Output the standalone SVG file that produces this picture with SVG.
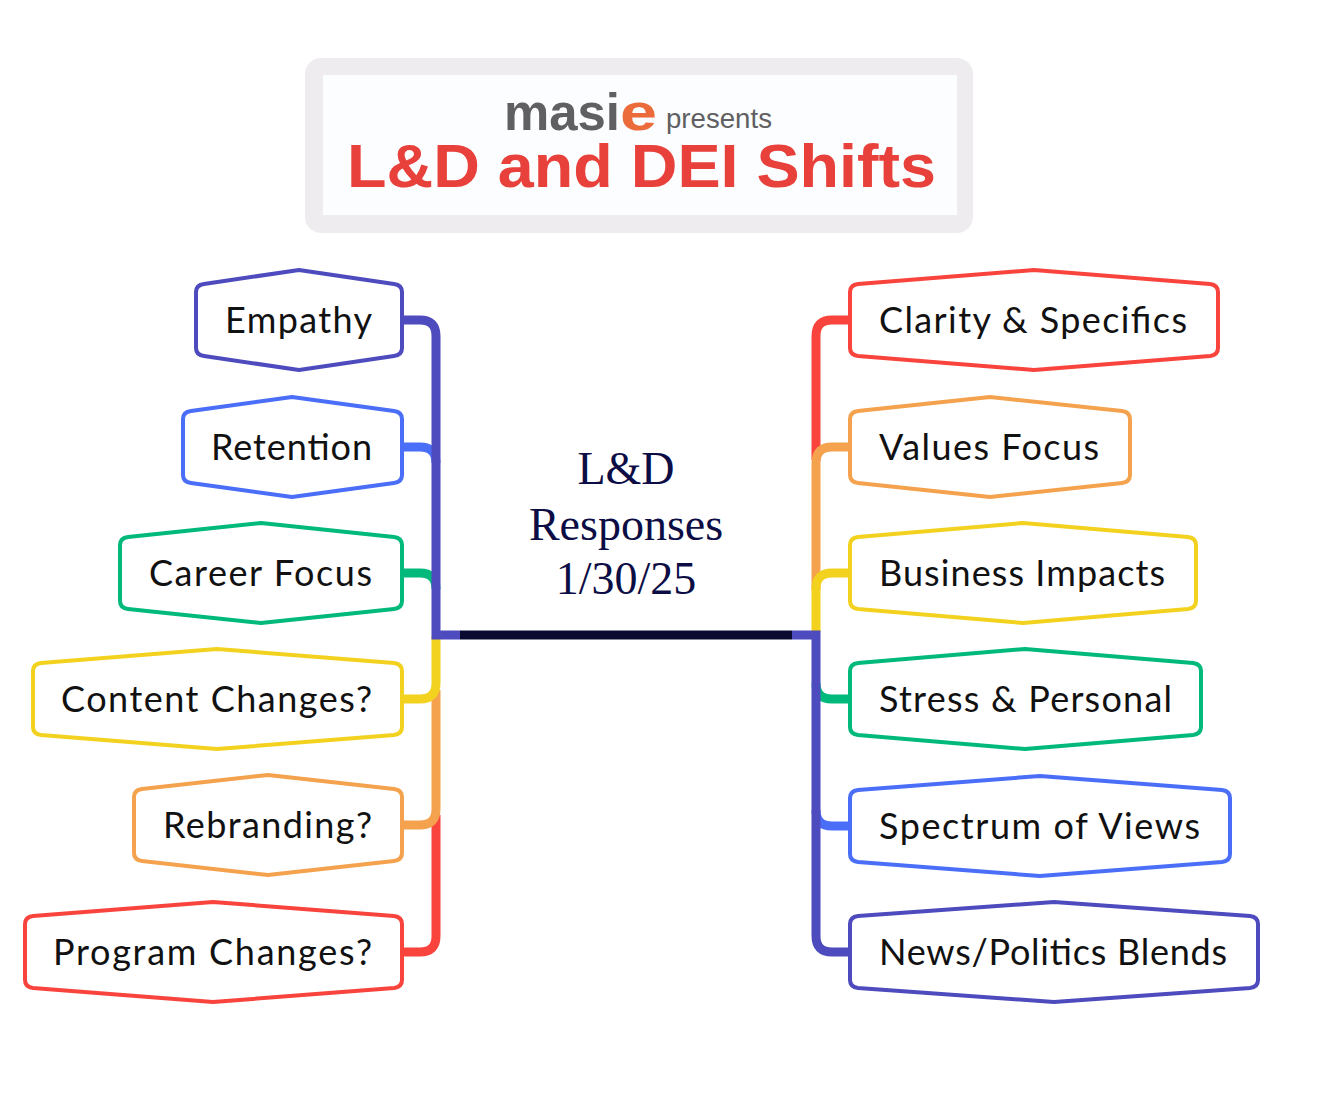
<svg xmlns="http://www.w3.org/2000/svg" width="1324" height="1104" viewBox="0 0 1324 1104">
<style>
.n{fill:#fff;stroke-width:4;stroke-linejoin:round}
.t{font-family:Lato,"Open Sans",sans-serif;font-size:36px;fill:#111}
.l{text-anchor:end}
.c{fill:none;stroke-width:9}
</style>
<rect width="1324" height="1104" fill="#fff"/>
<g id="title">
<rect x="305" y="58" width="668" height="175" rx="16" fill="#eeecef"/>
<rect x="323" y="75" width="634" height="140" fill="#fcfdfe"/>
<text x="504" y="130" font-family="Liberation Sans,sans-serif" font-weight="bold" font-size="52" fill="#606062" textLength="116" lengthAdjust="spacingAndGlyphs">masi</text>
<text x="620" y="130" font-family="Liberation Sans,sans-serif" font-weight="bold" font-size="52" fill="#ec6b3b" textLength="37" lengthAdjust="spacingAndGlyphs">e</text>
<text x="666" y="128" font-family="Liberation Sans,sans-serif" font-size="28" fill="#606062" textLength="106" lengthAdjust="spacingAndGlyphs">presents</text>
<text x="347" y="187" font-family="Liberation Sans,sans-serif" font-weight="bold" font-size="62" fill="#e8403a" textLength="589" lengthAdjust="spacingAndGlyphs">L&amp;D and DEI Shifts</text>
</g>
<g id="connectors">
<path class="c" stroke="#4a6ef8" d="M402,447 H420 Q436,447 436,463"/>
<path class="c" stroke="#00b97a" d="M402,573 H420 Q436,573 436,589"/>
<path class="c" stroke="#f9433d" d="M436,815 V936 Q436,952 420,952 H402"/>
<path class="c" stroke="#f5a24e" d="M436,690 V809 Q436,825 420,825 H402"/>
<path class="c" stroke="#f2d21f" d="M436,636 V683 Q436,699 420,699 H402"/>
<path class="c" stroke="#4d4bbd" d="M402,320 H420 Q436,320 436,336 V635 H460"/>
<path class="c" stroke="#0a0a30" d="M460,635 H792"/>
<path class="c" stroke="#f9433d" d="M850,320 H832 Q816,320 816,336 V460"/>
<path class="c" stroke="#f5a24e" d="M850,447 H832 Q816,447 816,463 V590"/>
<path class="c" stroke="#f2d21f" d="M850,573 H832 Q816,573 816,589 V632"/>
<path class="c" stroke="#00b97a" d="M816,683 Q816,699 832,699 H850"/>
<path class="c" stroke="#4a6ef8" d="M816,810 Q816,826 832,826 H850"/>
<path class="c" stroke="#4d4bbd" d="M792,635 H816 V936 Q816,952 832,952 H850"/>
</g>
<g id="center"><text font-family="Liberation Serif,serif" font-size="46" fill="#0d0d45" text-anchor="middle"><tspan x="626" y="484">L&amp;D</tspan><tspan x="626" y="540">Responses</tspan><tspan x="626" y="594">1/30/25</tspan></text></g>
<g id="n-empathy"><path class="n" stroke="#4d4bbd" d="M204,284 L299,270 L394,284 Q402,285 402,292 V348 Q402,355 394,356 L299,370 L204,356 Q196,355 196,348 V292 Q196,285 204,284 Z"/><text class="t l" x="372" y="333" textLength="147">Empathy</text></g>
<g id="n-retention"><path class="n" stroke="#4a6ef8" d="M191,411 L292,397 L394,411 Q402,412 402,419 V475 Q402,482 394,483 L292,497 L191,483 Q183,482 183,475 V419 Q183,412 191,411 Z"/><text class="t l" x="372" y="460" textLength="161">Retention</text></g>
<g id="n-career"><path class="n" stroke="#00b97a" d="M128,537 L261,523 L394,537 Q402,538 402,545 V601 Q402,608 394,609 L261,623 L128,609 Q120,608 120,601 V545 Q120,538 128,537 Z"/><text class="t l" x="372" y="586" textLength="223">Career Focus</text></g>
<g id="n-content"><path class="n" stroke="#f2d21f" d="M41,663 L217,649 L394,663 Q402,664 402,671 V727 Q402,734 394,735 L217,749 L41,735 Q33,734 33,727 V671 Q33,664 41,663 Z"/><text class="t l" x="372" y="712" textLength="311">Content Changes?</text></g>
<g id="n-rebranding"><path class="n" stroke="#f5a24e" d="M142,789 L268,775 L394,789 Q402,790 402,797 V853 Q402,860 394,861 L268,875 L142,861 Q134,860 134,853 V797 Q134,790 142,789 Z"/><text class="t l" x="372" y="838" textLength="209">Rebranding?</text></g>
<g id="n-program"><path class="n" stroke="#f9433d" d="M33,916 L213,902 L394,916 Q402,917 402,924 V980 Q402,987 394,988 L213,1002 L33,988 Q25,987 25,980 V924 Q25,917 33,916 Z"/><text class="t l" x="372" y="965" textLength="319">Program Changes?</text></g>
<g id="n-clarity"><path class="n" stroke="#f9433d" d="M858,284 L1034,270 L1210,284 Q1218,285 1218,292 V348 Q1218,355 1210,356 L1034,370 L858,356 Q850,355 850,348 V292 Q850,285 858,284 Z"/><text class="t" x="879" y="333" textLength="308">Clarity &amp; Specifics</text></g>
<g id="n-values"><path class="n" stroke="#f5a24e" d="M858,411 L990,397 L1122,411 Q1130,412 1130,419 V475 Q1130,482 1122,483 L990,497 L858,483 Q850,482 850,475 V419 Q850,412 858,411 Z"/><text class="t" x="879" y="460" textLength="220">Values Focus</text></g>
<g id="n-business"><path class="n" stroke="#f2d21f" d="M858,537 L1023,523 L1188,537 Q1196,538 1196,545 V601 Q1196,608 1188,609 L1023,623 L858,609 Q850,608 850,601 V545 Q850,538 858,537 Z"/><text class="t" x="879" y="586" textLength="286">Business Impacts</text></g>
<g id="n-stress"><path class="n" stroke="#00b97a" d="M858,663 L1025,649 L1193,663 Q1201,664 1201,671 V727 Q1201,734 1193,735 L1025,749 L858,735 Q850,734 850,727 V671 Q850,664 858,663 Z"/><text class="t" x="879" y="712" textLength="293">Stress &amp; Personal</text></g>
<g id="n-spectrum"><path class="n" stroke="#4a6ef8" d="M858,790 L1040,776 L1222,790 Q1230,791 1230,798 V854 Q1230,861 1222,862 L1040,876 L858,862 Q850,861 850,854 V798 Q850,791 858,790 Z"/><text class="t" x="879" y="839" textLength="321">Spectrum of Views</text></g>
<g id="n-news"><path class="n" stroke="#4d4bbd" d="M858,916 L1054,902 L1250,916 Q1258,917 1258,924 V980 Q1258,987 1250,988 L1054,1002 L858,988 Q850,987 850,980 V924 Q850,917 858,916 Z"/><text class="t" x="879" y="965" textLength="348">News/Politics Blends</text></g>
</svg>
